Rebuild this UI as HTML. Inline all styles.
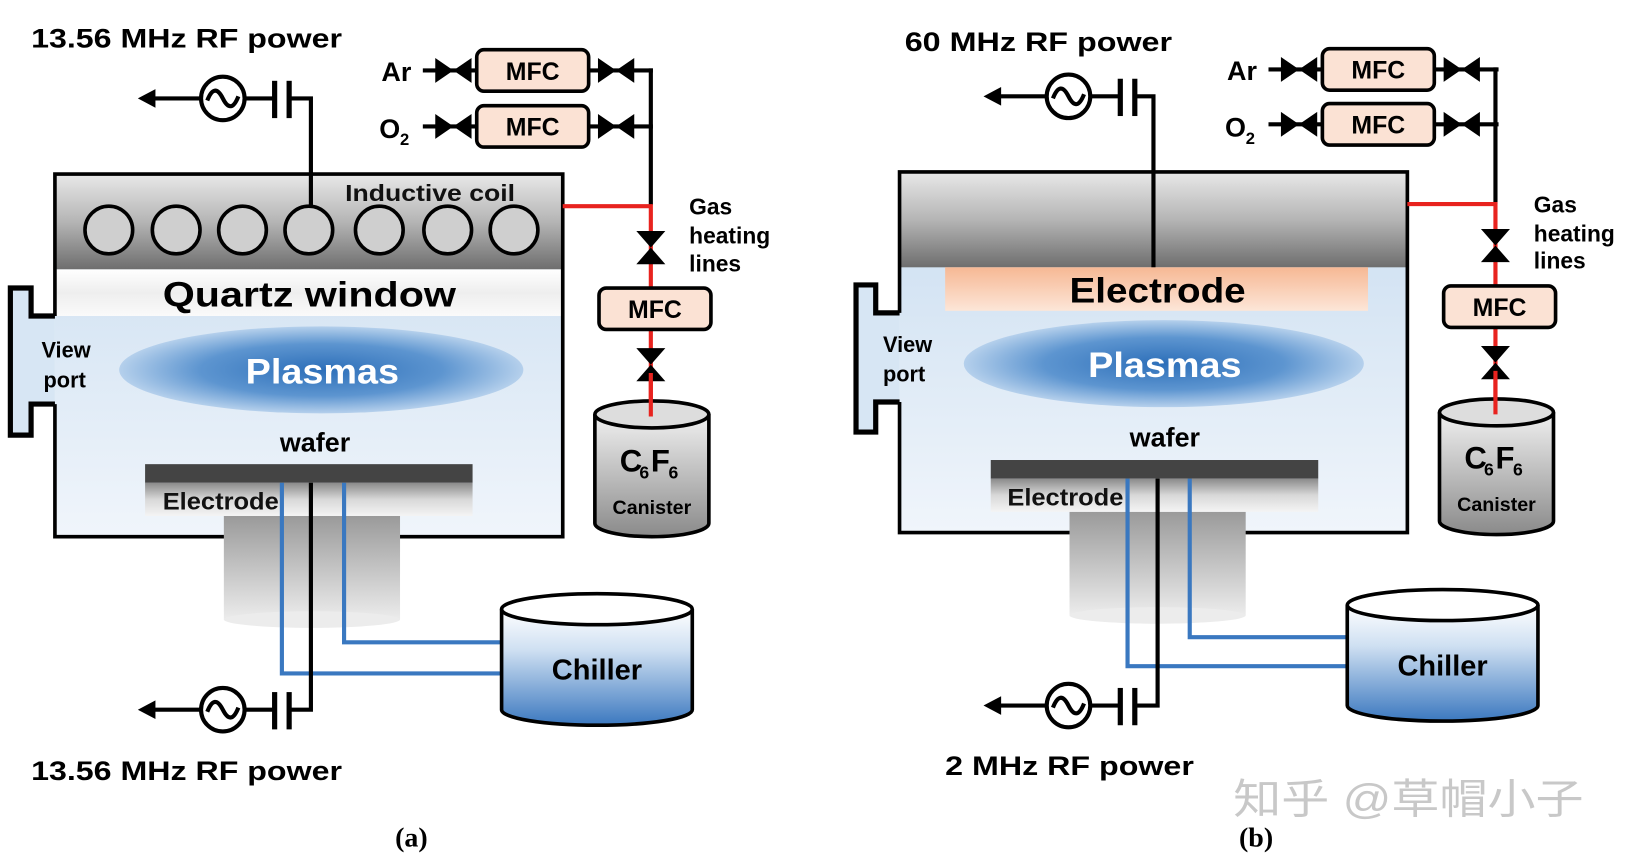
<!DOCTYPE html>
<html><head><meta charset="utf-8"><style>
html,body{margin:0;padding:0;background:#fff;}
svg{display:block;}
text{font-family:"Liberation Sans","Noto Sans CJK SC",sans-serif;font-weight:bold;}
</style></head><body>
<svg width="1625" height="862" viewBox="0 0 1568 832" preserveAspectRatio="none" xmlns="http://www.w3.org/2000/svg">
<defs>
<linearGradient id="top" x1="0" y1="0" x2="0" y2="1"><stop offset="0" stop-color="#e8e8e8"/><stop offset="0.5" stop-color="#b5b5b5"/><stop offset="1" stop-color="#6e6e6e"/></linearGradient>
<linearGradient id="qw" x1="0" y1="0" x2="0" y2="1"><stop offset="0" stop-color="#fff"/><stop offset="0.5" stop-color="#eeeeee"/><stop offset="1" stop-color="#fafafa"/></linearGradient>
<linearGradient id="body" x1="0" y1="0" x2="0" y2="1"><stop offset="0" stop-color="#c9ddf0"/><stop offset="1" stop-color="#f0f5fb"/></linearGradient>
<radialGradient id="pl" cx="0.5" cy="0.5" r="0.5"><stop offset="0" stop-color="#2d6fb9"/><stop offset="0.6" stop-color="#5d95d0"/><stop offset="1" stop-color="#b5d0ec"/></radialGradient>
<linearGradient id="el" x1="0" y1="0" x2="0" y2="1"><stop offset="0" stop-color="#8a8a8a"/><stop offset="0.5" stop-color="#d8d8d8"/><stop offset="1" stop-color="#f4f4f4"/></linearGradient>
<linearGradient id="ped" x1="0" y1="0" x2="0" y2="1"><stop offset="0" stop-color="#9a9a9a"/><stop offset="1" stop-color="#ececec"/></linearGradient>
<linearGradient id="can" x1="0" y1="0" x2="0" y2="1"><stop offset="0" stop-color="#f0f0f0"/><stop offset="1" stop-color="#8a8a8a"/></linearGradient>
<linearGradient id="chl" x1="0" y1="0" x2="0" y2="1"><stop offset="0" stop-color="#ffffff"/><stop offset="0.35" stop-color="#cfe0f2"/><stop offset="1" stop-color="#3b78bf"/></linearGradient>
<linearGradient id="ore" x1="0" y1="0" x2="0" y2="1"><stop offset="0" stop-color="#f6b894"/><stop offset="1" stop-color="#fde6d8"/></linearGradient>
</defs>

<!-- ============ PANEL A ============ -->
<text x="30" y="46" font-size="26" textLength="300" lengthAdjust="spacingAndGlyphs">13.56 MHz RF power</text>
<g stroke="#000" stroke-width="4" fill="none">
<line x1="145" y1="95" x2="193" y2="95"/>
<circle cx="215" cy="95" r="21" fill="#fff"/>
<path d="M200 97 q7 -18 15 -2 q8 16 15 -2"/>
<line x1="236" y1="95" x2="265" y2="95"/>
<line x1="265" y1="78" x2="265" y2="114" stroke-width="5"/>
<line x1="279" y1="78" x2="279" y2="114" stroke-width="5"/>
</g>
<polygon points="133,95 150,86 150,104" fill="#000"/>

<rect x="53" y="168" width="490" height="350" fill="url(#body)"/>
<rect x="53" y="168" width="490" height="92" fill="url(#top)"/>
<rect x="53" y="260" width="490" height="45" fill="url(#qw)"/>
<path d="M53 305 V168 H543 V518 H53 V390" fill="none" stroke="#000" stroke-width="3.5"/>
<path d="M53 305 H30 V278 H10 V420 H30 V390 H53" fill="#d7e6f4" stroke="#000" stroke-width="5"/>
<polyline points="279,95 300,95 300,200" fill="none" stroke="#000" stroke-width="4"/>
<g fill="#cfcfcf" stroke="#000" stroke-width="3.5">
<circle cx="105" cy="222" r="23"/><circle cx="170" cy="222" r="23"/><circle cx="234" cy="222" r="23"/><circle cx="298" cy="222" r="23"/><circle cx="366" cy="222" r="23"/><circle cx="432" cy="222" r="23"/><circle cx="496" cy="222" r="23"/>
</g>
<text x="333" y="194" font-size="22" fill="#111" textLength="164" lengthAdjust="spacingAndGlyphs">Inductive coil</text>
<text x="157" y="296" font-size="34" textLength="283" lengthAdjust="spacingAndGlyphs">Quartz window</text>
<ellipse cx="310" cy="357" rx="195" ry="42" fill="url(#pl)"/>
<text x="237" y="370" font-size="34" fill="#fff" textLength="148" lengthAdjust="spacingAndGlyphs">Plasmas</text>
<text x="40" y="345" font-size="21">View</text>
<text x="42" y="374" font-size="21">port</text>
<text x="304" y="436" font-size="26" text-anchor="middle">wafer</text>
<rect x="216" y="498" width="170" height="100" fill="url(#ped)"/>
<ellipse cx="301" cy="598" rx="85" ry="8" fill="#ececec"/>
<rect x="140" y="448" width="316" height="18" fill="#444"/>
<rect x="140" y="466" width="316" height="32" fill="url(#el)"/>
<text x="157" y="492" font-size="23" fill="#111" textLength="112" lengthAdjust="spacingAndGlyphs">Electrode</text>
<polyline points="272,466 272,650 484,650" fill="none" stroke="#3a78c0" stroke-width="4"/>
<polyline points="332,466 332,620 484,620" fill="none" stroke="#3a78c0" stroke-width="4"/>
<g stroke="#000" stroke-width="4" fill="none">
<polyline points="300,466 300,685 279,685"/>
<line x1="145" y1="685" x2="193" y2="685"/>
<circle cx="215" cy="685" r="21" fill="#fff"/>
<path d="M200 687 q7 -18 15 -2 q8 16 15 -2"/>
<line x1="236" y1="685" x2="265" y2="685"/>
<line x1="265" y1="668" x2="265" y2="704" stroke-width="5"/>
<line x1="279" y1="668" x2="279" y2="704" stroke-width="5"/>
</g>
<polygon points="133,685 150,676 150,694" fill="#000"/>
<text x="30" y="753" font-size="26" textLength="300" lengthAdjust="spacingAndGlyphs">13.56 MHz RF power</text>
<path d="M484 588 V685 A92 15 0 0 0 668 685 V588" fill="url(#chl)" stroke="#000" stroke-width="3.5"/>
<ellipse cx="576" cy="588" rx="92" ry="15" fill="#fff" stroke="#000" stroke-width="3.5"/>
<text x="576" y="656" font-size="28" text-anchor="middle">Chiller</text>
<text x="368" y="78" font-size="26">Ar</text>
<text x="366" y="133" font-size="26">O</text><text x="386" y="140" font-size="16">2</text>
<g stroke="#000" stroke-width="4" fill="none">
<line x1="408" y1="68" x2="460" y2="68"/><line x1="408" y1="122" x2="460" y2="122"/>
<line x1="568" y1="68" x2="630" y2="68"/><line x1="568" y1="122" x2="630" y2="122"/>
<line x1="628" y1="66" x2="628" y2="198"/>
</g>
<g fill="#000">
<polygon points="420,56 420,80 455,56 455,80"/><polygon points="420,110 420,134 455,110 455,134"/>
<polygon points="577,56 577,80 612,56 612,80"/><polygon points="577,110 577,134 612,110 612,134"/>
</g>
<polyline points="543,199 628,199 628,400" fill="none" stroke="#e8231f" stroke-width="4"/>
<g fill="#fbe2d4" stroke="#000" stroke-width="3.5">
<rect x="460" y="48" width="108" height="40" rx="7"/><rect x="460" y="102" width="108" height="40" rx="7"/>
<rect x="578" y="278" width="108" height="40" rx="7"/>
</g>
<g font-size="24" text-anchor="middle"><text x="514" y="77">MFC</text><text x="514" y="131">MFC</text><text x="632" y="307">MFC</text></g>
<g fill="#000"><polygon points="614,223 642,223 614,255 642,255"/><polygon points="614,336 642,336 614,368 642,368"/></g>
<path d="M574 400 V505 A55 13 0 0 0 684 505 V400" fill="url(#can)" stroke="#000" stroke-width="3.5"/>
<ellipse cx="629" cy="400" rx="55" ry="13" fill="#ddd" stroke="#000" stroke-width="3.5"/>
<line x1="628" y1="360" x2="628" y2="402" stroke="#e8231f" stroke-width="4"/>
<text x="598" y="455" font-size="30">C</text><text x="617" y="462" font-size="17">6</text><text x="628" y="455" font-size="30">F</text><text x="645" y="462" font-size="17">6</text>
<text x="629" y="496" font-size="19" text-anchor="middle">Canister</text>
<g font-size="22"><text x="665" y="207">Gas</text><text x="665" y="235">heating</text><text x="665" y="262">lines</text></g>
<text x="397" y="817" font-size="27" text-anchor="middle" style="font-family:'Liberation Serif',serif">(a)</text>

<!-- ============ PANEL B ============ -->
<text x="873" y="49" font-size="26" textLength="258" lengthAdjust="spacingAndGlyphs">60 MHz RF power</text>
<g stroke="#000" stroke-width="4" fill="none">
<line x1="962" y1="93" x2="1010" y2="93"/>
<circle cx="1031" cy="93" r="21" fill="#fff"/>
<path d="M1016 95 q7 -18 15 -2 q8 16 15 -2"/>
<line x1="1052" y1="93" x2="1081" y2="93"/>
<line x1="1081" y1="76" x2="1081" y2="112" stroke-width="5"/>
<line x1="1095" y1="76" x2="1095" y2="112" stroke-width="5"/>
</g>
<polygon points="949,93 966,84 966,102" fill="#000"/>
<rect x="868" y="166" width="490" height="348" fill="url(#body)"/>
<rect x="868" y="166" width="490" height="92" fill="url(#top)"/>
<rect x="912" y="258" width="408" height="42" fill="url(#ore)"/>
<path d="M868 302 V166 H1358 V514 H868 V388" fill="none" stroke="#000" stroke-width="3.5"/>
<path d="M868 302 H845 V275 H826 V417 H845 V388 H868" fill="#d7e6f4" stroke="#000" stroke-width="5"/>
<polyline points="1095,93 1113,93 1113,258" fill="none" stroke="#000" stroke-width="4"/>
<text x="1032" y="292" font-size="34" textLength="170" lengthAdjust="spacingAndGlyphs">Electrode</text>
<ellipse cx="1123" cy="351" rx="193" ry="42" fill="url(#pl)"/>
<text x="1050" y="364" font-size="34" fill="#fff" textLength="148" lengthAdjust="spacingAndGlyphs">Plasmas</text>
<text x="852" y="340" font-size="21">View</text>
<text x="852" y="368" font-size="21">port</text>
<text x="1124" y="431" font-size="26" text-anchor="middle">wafer</text>
<rect x="1032" y="494" width="170" height="100" fill="url(#ped)"/>
<ellipse cx="1117" cy="594" rx="85" ry="8" fill="#ececec"/>
<rect x="956" y="444" width="316" height="18" fill="#444"/>
<rect x="956" y="462" width="316" height="32" fill="url(#el)"/>
<text x="972" y="488" font-size="23" fill="#111" textLength="112" lengthAdjust="spacingAndGlyphs">Electrode</text>
<polyline points="1088,462 1088,643 1300,643" fill="none" stroke="#3a78c0" stroke-width="4"/>
<polyline points="1148,462 1148,615 1300,615" fill="none" stroke="#3a78c0" stroke-width="4"/>
<g stroke="#000" stroke-width="4" fill="none">
<polyline points="1117,462 1117,681 1095,681"/>
<line x1="962" y1="681" x2="1010" y2="681"/>
<circle cx="1031" cy="681" r="21" fill="#fff"/>
<path d="M1016 683 q7 -18 15 -2 q8 16 15 -2"/>
<line x1="1052" y1="681" x2="1081" y2="681"/>
<line x1="1081" y1="664" x2="1081" y2="700" stroke-width="5"/>
<line x1="1095" y1="664" x2="1095" y2="700" stroke-width="5"/>
</g>
<polygon points="949,681 966,672 966,690" fill="#000"/>
<text x="912" y="748" font-size="26" textLength="240" lengthAdjust="spacingAndGlyphs">2 MHz RF power</text>
<path d="M1300 584 V681 A92 15 0 0 0 1484 681 V584" fill="url(#chl)" stroke="#000" stroke-width="3.5"/>
<ellipse cx="1392" cy="584" rx="92" ry="15" fill="#fff" stroke="#000" stroke-width="3.5"/>
<text x="1392" y="652" font-size="28" text-anchor="middle">Chiller</text>
<text x="1184" y="77" font-size="26">Ar</text>
<text x="1182" y="132" font-size="26">O</text><text x="1202" y="139" font-size="16">2</text>
<g stroke="#000" stroke-width="4" fill="none">
<line x1="1224" y1="67" x2="1276" y2="67"/><line x1="1224" y1="120" x2="1276" y2="120"/>
<line x1="1384" y1="67" x2="1446" y2="67"/><line x1="1384" y1="120" x2="1446" y2="120"/>
<line x1="1443" y1="65" x2="1443" y2="197"/>
</g>
<g fill="#000">
<polygon points="1236,55 1236,79 1271,55 1271,79"/><polygon points="1236,108 1236,132 1271,108 1271,132"/>
<polygon points="1393,55 1393,79 1428,55 1428,79"/><polygon points="1393,108 1393,132 1428,108 1428,132"/>
</g>
<polyline points="1358,197 1443,197 1443,398" fill="none" stroke="#e8231f" stroke-width="4"/>
<g fill="#fbe2d4" stroke="#000" stroke-width="3.5">
<rect x="1276" y="47" width="108" height="40" rx="7"/><rect x="1276" y="100" width="108" height="40" rx="7"/>
<rect x="1393" y="276" width="108" height="40" rx="7"/>
</g>
<g font-size="24" text-anchor="middle"><text x="1330" y="76">MFC</text><text x="1330" y="129">MFC</text><text x="1447" y="305">MFC</text></g>
<g fill="#000"><polygon points="1429,221 1457,221 1429,253 1457,253"/><polygon points="1429,334 1457,334 1429,366 1457,366"/></g>
<path d="M1389 398 V503 A55 13 0 0 0 1499 503 V398" fill="url(#can)" stroke="#000" stroke-width="3.5"/>
<ellipse cx="1444" cy="398" rx="55" ry="13" fill="#ddd" stroke="#000" stroke-width="3.5"/>
<line x1="1443" y1="358" x2="1443" y2="400" stroke="#e8231f" stroke-width="4"/>
<text x="1413" y="452" font-size="30">C</text><text x="1432" y="459" font-size="17">6</text><text x="1443" y="452" font-size="30">F</text><text x="1460" y="459" font-size="17">6</text>
<text x="1444" y="493" font-size="19" text-anchor="middle">Canister</text>
<g font-size="22"><text x="1480" y="205">Gas</text><text x="1480" y="233">heating</text><text x="1480" y="259">lines</text></g>
<text x="1190" y="785" font-size="40" fill="#c8c8c8" style="font-weight:normal" textLength="338" lengthAdjust="spacingAndGlyphs">知乎 @草帽小子</text>
<text x="1212" y="817" font-size="27" text-anchor="middle" style="font-family:'Liberation Serif',serif">(b)</text>
</svg>
</body></html>
